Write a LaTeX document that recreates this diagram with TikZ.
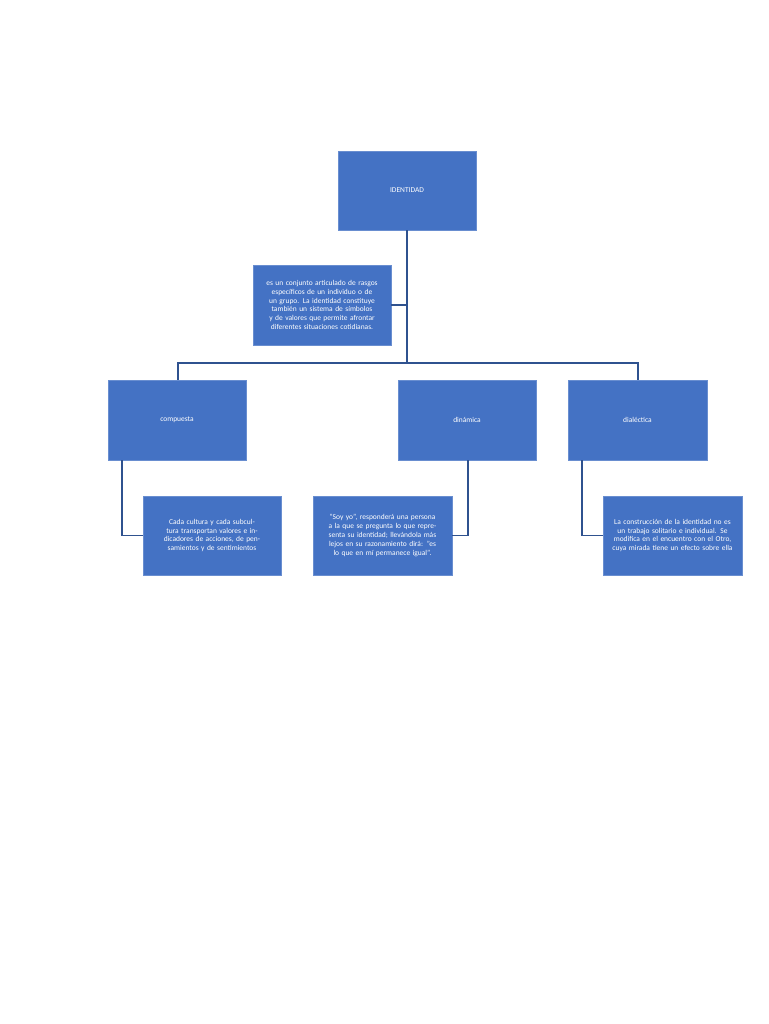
\documentclass[tikz,border=0pt]{standalone}
\usepackage{fontspec}
\setmainfont{Carlito}
\definecolor{boxblue}{HTML}{4472C4}
\definecolor{linkblue}{HTML}{2F528F}
\begin{document}
\begin{tikzpicture}[x=0.75pt,y=-0.75pt,
  bx/.style={draw=boxblue!80!white,fill=boxblue,text=white,inner sep=0pt,
    font=\fontsize{5.6}{6.6}\selectfont,align=center},
  link/.style={draw=linkblue,line width=0.9pt}]
\useasboundingbox (0,0) rectangle (768,1024);
\newcommand\bxat[6]{\node[bx,minimum width={(#4-#2)*0.75pt},minimum height={(#5-#3)*0.75pt},text width={(#4-#2-10)*0.75pt}] (#1) at ({(#2+#4)/2},{(#3+#5)/2}) {#6};}
\bxat{id}{338}{151}{476}{230}{IDENTIDAD}
\bxat{desc}{253}{265}{391}{345}{es un conjunto articulado de rasgos específicos de un individuo o de un grupo. La identidad constituye también un sistema de símbolos y de valores que permite afrontar diferentes situaciones cotidianas.}
\bxat{comp}{108}{380}{246}{460}{compuesta}
\bxat{din}{398}{380}{536}{460}{dinámica}
\bxat{dia}{568}{380}{707}{460}{dialéctica}
\bxat{compc}{143}{496}{281}{575}{Cada cultura y cada subcultura transportan valores e indicadores de acciones, de pensamientos y de sentimientos}
\bxat{dinc}{313}{496}{452}{575}{"Soy yo", responderá una persona a la que se pregunta lo que representa su identidad; llevándola más lejos en su razonamiento dirá: "es lo que en mí permanece igual".}
\bxat{diac}{603}{496}{742}{575}{La construcción de la identidad no es un trabajo solitario e individual. Se modifica en el encuentro con el Otro, cuya mirada tiene un efecto sobre ella}
\coordinate (bar) at (407,363);
\draw[link] (id.south) -- (bar);
\draw[link] (desc.east) -- (desc.east -| id.south);
\draw[link] (comp.north -| 178,0) |- (bar) -| (dia.north -| 638,0);
\draw[link] (din.north -| 468,0) -- (din.north -| 468,363);
\draw[link] (comp.south -| 122,0) |- (compc.west);
\draw[link] (din.south -| 468,0) |- (dinc.east);
\draw[link] (dia.south -| 582,0) |- (diac.west);
\end{tikzpicture}
\end{document}
